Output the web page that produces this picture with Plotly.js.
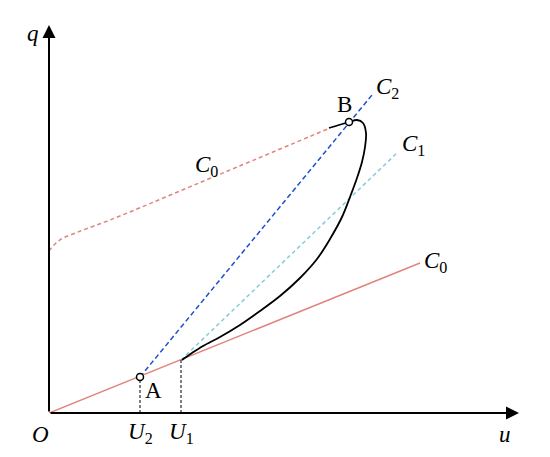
<!DOCTYPE html>
<html>
<head>
<meta charset="utf-8">
<script src="https://cdn.plot.ly/plotly-3.0.1.min.js"></script>
<style>body{margin:0;background:#fff}</style>
</head>
<body>
<div id="chart" style="width:550px;height:457px"></div>
<script>
// values (u right, q up, origin at O)
let c0X = [0, 371];
let c0Y = [0, 150];
let c0UpperX = [0, 6, 14, 24, 34, 61, 150, 281];
let c0UpperY = [162, 169, 175, 179, 183, 193, 230, 285];
let c2X = [91, 323];
let c2Y = [36, 318];
let c1X = [132, 349];
let c1Y = [53, 261];
let loopX = [280, 300, 308, 314, 317, 316, 313, 308, 301, 293, 281, 268, 251, 231, 211, 191, 171, 154, 143, 133];
let loopY = [285, 291, 293, 290, 280, 266, 251, 235, 216, 196, 174, 154, 135, 117, 102, 88, 76, 67, 60, 53];
let pointNames = ["A", "B"];
let pointX = [91, 300];
let pointY = [36, 291];
let uTicks = [91, 132];
let uTickTops = [36, 53];
let uTickNames = ["<i>U</i><sub>2</sub>", "<i>U</i><sub>1</sub>"];

let serif = "'Liberation Serif', 'Times New Roman', serif";
let xMax = 470, yMax = 388;

let trace_c0 = {
    x: c0X, y: c0Y, mode: "lines",
    line: {color: "#e0857c", width: 1.5}
};
let trace_c0up = {
    x: c0UpperX, y: c0UpperY, mode: "lines",
    line: {color: "#e0857c", width: 1.5, dash: "4px,3px", shape: "spline"}
};
let trace_c2 = {
    x: c2X, y: c2Y, mode: "lines",
    line: {color: "#1d4fd0", width: 1.5, dash: "5px,3px"}
};
let trace_c1 = {
    x: c1X, y: c1Y, mode: "lines",
    line: {color: "#86cbdb", width: 1.5, dash: "4px,3px"}
};
let trace_loop = {
    x: loopX, y: loopY, mode: "lines",
    line: {color: "#000", width: 1.8, shape: "spline", smoothing: 1}
};
let data = [trace_c0, trace_c0up, trace_c2, trace_c1, trace_loop];

// dashed drops from the C0 line to U2 and U1
uTicks.forEach((u, i) => {
    data.push({
        x: [u, u], y: [0, uTickTops[i]], mode: "lines",
        line: {color: "#000", width: 1, dash: "3px,2px"}
    });
});

data.push({
    x: pointX, y: pointY, mode: "markers",
    marker: {size: 7, color: "#fff", line: {color: "#000", width: 1.5}}
});

// labels placed in data units, converted to paper so the ones outside the axes still draw
let labels = [
    {x: -16, y: 380, text: "<i>q</i>"},
    {x: 456, y: -21, text: "<i>u</i>"},
    {x: -9, y: -21, text: "<i>O</i>"},
    {x: 104, y: 23, text: pointNames[0]},
    {x: 295, y: 309, text: pointNames[1]},
    {x: 338, y: 325, text: "<i>C</i><sub>2</sub>"},
    {x: 364, y: 268, text: "<i>C</i><sub>1</sub>"},
    {x: 386, y: 151, text: "<i>C</i><sub>0</sub>"},
    {x: 157, y: 247, text: "<i>C</i><sub>0</sub>"}
];
uTicks.forEach((u, i) => labels.push({x: u, y: -20, text: uTickNames[i]}));

let annotations = labels.map(l => ({
    xref: "paper", yref: "paper", x: l.x / xMax, y: l.y / yMax,
    xanchor: "center", yanchor: "middle",
    text: l.text, showarrow: false,
    font: {family: serif, size: 23, color: "#000"}
}));

// axes with arrowheads
annotations.push({x: xMax, y: 0, ax: 0, ay: 0, axref: "x", ayref: "y", text: "", showarrow: true,
    arrowhead: 2, arrowsize: 1.3, arrowwidth: 2, arrowcolor: "#000"});
annotations.push({x: 0, y: yMax, ax: 0, ay: 0, axref: "x", ayref: "y", text: "", showarrow: true,
    arrowhead: 2, arrowsize: 1.3, arrowwidth: 2, arrowcolor: "#000"});

let layout = {
    width: 550,
    height: 457,
    margin: {l: 49, r: 31, t: 25, b: 44},
    paper_bgcolor: "#fff",
    plot_bgcolor: "#fff",
    showlegend: false,
    hovermode: false,
    xaxis: {range: [0, xMax], showgrid: false, zeroline: false, showticklabels: false, showline: false, fixedrange: true},
    yaxis: {range: [0, yMax], showgrid: false, zeroline: false, showticklabels: false, showline: false, fixedrange: true},
    annotations: annotations
};

data.forEach(t => { t.cliponaxis = false; t.hoverinfo = "skip"; });

Plotly.newPlot("chart", data, layout, {staticPlot: true});
</script>
</body>
</html>
